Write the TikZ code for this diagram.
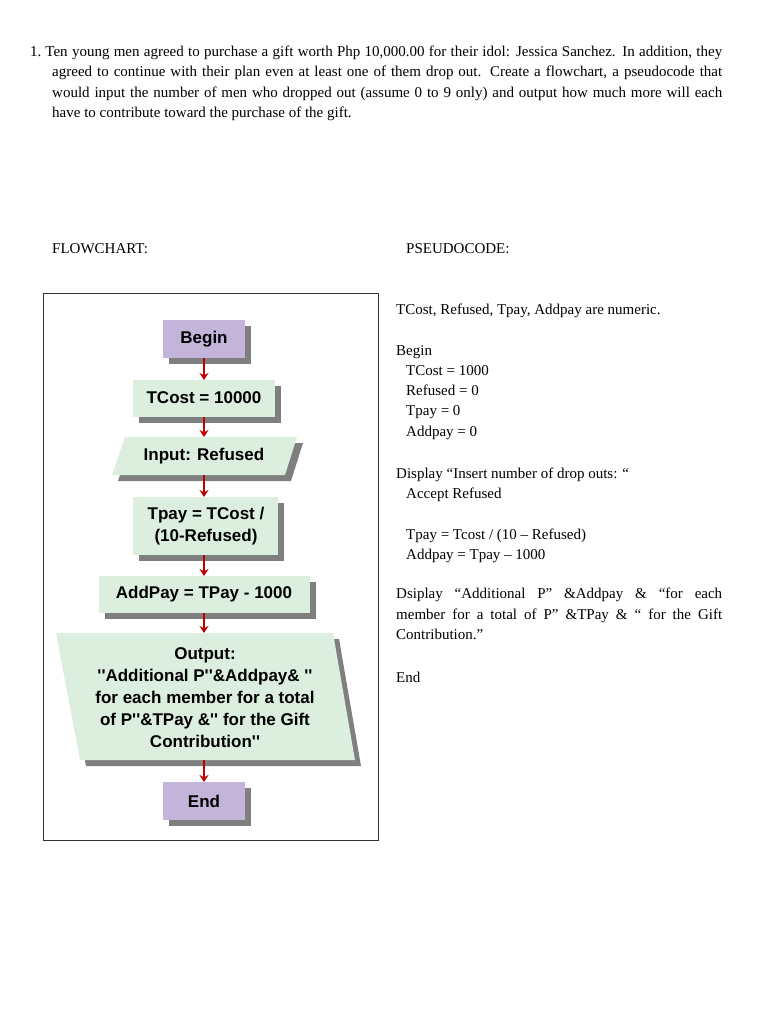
\documentclass[tikz,border=0pt]{standalone}
\usepackage{fontspec}
\setmainfont{Liberation Serif}
\newfontfamily\fcfont{Liberation Sans}
\usetikzlibrary{arrows.meta}
\definecolor{gbox}{HTML}{DCEFDF}
\definecolor{pbox}{HTML}{C3B5DA}
\definecolor{shd}{HTML}{7F7F7F}
\definecolor{arr}{HTML}{C00000}
\tikzset{
 body/.style={font=\fontsize{15}{20}\selectfont, inner sep=0pt, anchor=mid west},
 fc/.style={font=\fcfont\bfseries\fontsize{17}{22}\selectfont, align=center, inner sep=0pt},
 flowarrow/.style={arr, line width=1.6pt, -{Stealth[length=7pt,width=9pt]}},
}
\begin{document}
\begin{tikzpicture}[x=1pt,y=-1pt]
\useasboundingbox (0,0) rectangle (768,1024);
\fill[white] (0,0) rectangle (768,1024);
% question
\node[font=\fontsize{15}{20.2}\selectfont, inner sep=0pt, anchor=north west, text width=670pt, align=justify] (q) at (52,46)
 {\hspace*{-22pt}1.\hspace{4pt}Ten young men agreed to purchase a gift worth Php 10,000.00 for their idol: Jessica Sanchez. In addition, they\linebreak agreed to continue with their plan even at least one of them drop out. Create a flowchart, a pseudocode that\linebreak would input the number of men who dropped out (assume 0 to 9 only) and output how much more will each\linebreak have to contribute toward the purchase of the gift.};
\node[body] (h1) at (52,251) {FLOWCHART:};
\node[body] (h2) at (406,251) {PSEUDOCODE:};
% frame
\draw[line width=0.8pt, black!80] (43,293) rectangle (378,840);
% shapes: shadows then fills
\def\sh{6}
\foreach \a/\b/\c/\d/\col in {163/320/245/358/pbox,133/380/275/417/gbox,133/497/278/555/gbox,99/576/310/613/gbox,163/782/245/820/pbox}{
  \fill[shd] (\a+\sh,\b+\sh) rectangle (\c+\sh,\d+\sh);
  \fill[\col] (\a,\b) rectangle (\c,\d);
}
\fill[shd] (125+\sh,437+\sh) -- (297+\sh,437+\sh) -- (285+\sh,475+\sh) -- (112+\sh,475+\sh) -- cycle;
\fill[gbox] (125,437) -- (297,437) -- (285,475) -- (112,475) -- cycle;
\fill[shd] (56+\sh,633+\sh) -- (333+\sh,633+\sh) -- (355+\sh,760+\sh) -- (80+\sh,760+\sh) -- cycle;
\fill[gbox] (56,633) -- (333,633) -- (355,760) -- (80,760) -- cycle;
% texts
\node[fc] (begin) at (204,339) {Begin};
\node[fc] (tcost) at (204,398) {TCost = 10000};
\node[fc] (input) at (204,456) {Input: Refused};
\node[fc] (tpay) at (206,526) {Tpay = TCost /\\(10-Refused)};
\node[fc] (addpay) at (204,594) {AddPay = TPay - 1000};
\node[fc] (output) at (205,698) {Output:\\''Additional P''\&Addpay\& ''\\for each member for a total\\of P''\&TPay \&'' for the Gift\\Contribution''};
\node[fc] (end) at (204,801) {End};
% arrows
\coordinate (a1) at (204,358); \coordinate (b1) at (204,380);
\coordinate (a2) at (204,417); \coordinate (b2) at (204,437);
\coordinate (a3) at (204,475); \coordinate (b3) at (204,497);
\coordinate (a4) at (204,555); \coordinate (b4) at (204,576);
\coordinate (a5) at (204,613); \coordinate (b5) at (204,633);
\coordinate (a6) at (204,760); \coordinate (b6) at (204,782);
\foreach \i in {1,...,6}{\draw[flowarrow] (a\i) -- (b\i);}
% pseudocode
\node[body] (p1) at (396,312) {TCost, Refused, Tpay, Addpay are numeric.};
\node[body] (p2) at (396,353) {Begin};
\node[body] (p3) at (406,373) {TCost = 1000};
\node[body] (p4) at (406,393) {Refused = 0};
\node[body] (p5) at (406,413) {Tpay = 0};
\node[body] (p6) at (406,434) {Addpay = 0};
\node[body] (p7) at (396,476) {Display “Insert number of drop outs: “};
\node[body] (p8) at (406,496) {Accept Refused};
\node[body] (p9) at (406,537) {Tpay = Tcost / (10 – Refused)};
\node[body] (p10) at (406,557) {Addpay = Tpay – 1000};
\node[font=\fontsize{15}{20.4}\selectfont, inner sep=0pt, anchor=north west, text width=326pt, align=justify] (p11) at (396,588)
 {Dsiplay “Additional P” \&Addpay \& “for each\linebreak member for a total of P” \&TPay \& “ for the Gift\linebreak Contribution.”};
\node[body] (p12) at (396,680) {End};
\end{tikzpicture}
\end{document}
